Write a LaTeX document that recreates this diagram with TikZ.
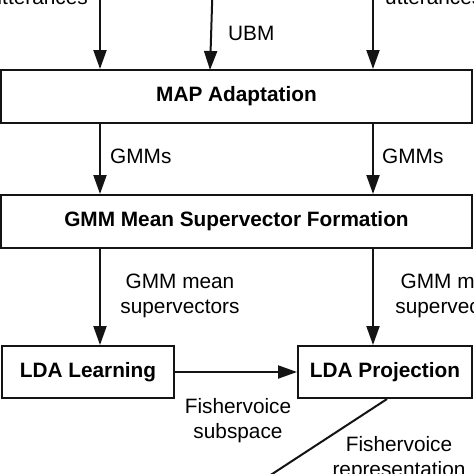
\documentclass[tikz,border=0pt]{standalone}
\usepackage{fontspec}
\setmainfont{Liberation Sans}
\usetikzlibrary{arrows.meta}
\begin{document}
\begin{tikzpicture}[x=1pt,y=-1pt,
  box/.style={draw=black!92,line width=2pt,rectangle,inner sep=0pt,fill=white,
    font=\fontsize{20.8}{25}\selectfont\bfseries},
  lbl/.style={inner sep=0pt,align=center,font=\fontsize{20.8}{25}\selectfont},
  arr/.style={draw=black!92,line width=2pt,-{Triangle[length=19pt,width=13pt]}},
  ln/.style={draw=black!92,line width=2pt}]
\useasboundingbox (0,0) rectangle (474,474);
\clip (0,0) rectangle (474,474);
\fill[white] (0,0) rectangle (474,474);
% boxes
\node[box,minimum width=471pt,minimum height=53pt] (map) at (236.5,96.5) {MAP Adaptation};
\node[box,minimum width=471pt,minimum height=53pt] (gmm) at (236.5,221.5) {GMM Mean Supervector Formation};
\node[box,minimum width=172pt,minimum height=52pt] (ldal) at (88,372) {LDA Learning};
\node[box,minimum width=174pt,minimum height=52pt] (ldap) at (385,372) {LDA Projection};
% inputs (cut off at the top)
\node[lbl,anchor=base east] (utl) at (88,4) {utterances};
\node[lbl,anchor=base west] (utr) at (385,4) {utterances};
\coordinate (inL) at (100,-10);
\coordinate (inM) at (212.5,-10);
\coordinate (inR) at (373,-10);
\coordinate (out) at (240,495);
\draw[arr] (inL) -- (map.north -| inL);
\draw[arr] (inM) -- (210,70);
\draw[arr] (inR) -- (map.north -| inR);
\node[lbl,anchor=west] (ubm) at (228,33) {UBM};
% MAP -> GMM box
\draw[arr] (map.south -| inL) -- (gmm.north -| inL);
\draw[arr] (map.south -| inR) -- (gmm.north -| inR);
\node[lbl,anchor=west] (g1) at (110,156) {GMMs};
\node[lbl,anchor=west] (g2) at (382,156) {GMMs};
% GMM box -> LDA
\draw[arr] (gmm.south -| inL) -- (ldal.north -| inL);
\draw[arr] (gmm.south -| inR) -- (ldap.north -| inR);
\node[lbl] (s1) at (180,295.5) {GMM mean\\supervectors};
\node[lbl] (s2) at (455,295.5) {GMM mean\\supervectors};
% LDA learning -> projection
\draw[arr] (ldal.east) -- (ldap.west);
\node[lbl] (fs) at (238,420.5) {Fishervoice\\subspace};
% output
\draw[ln] (ldap.south -| 387,0) -- (out);
\node[lbl] (fr) at (399,458.5) {Fishervoice\\representation};
\end{tikzpicture}
\end{document}
